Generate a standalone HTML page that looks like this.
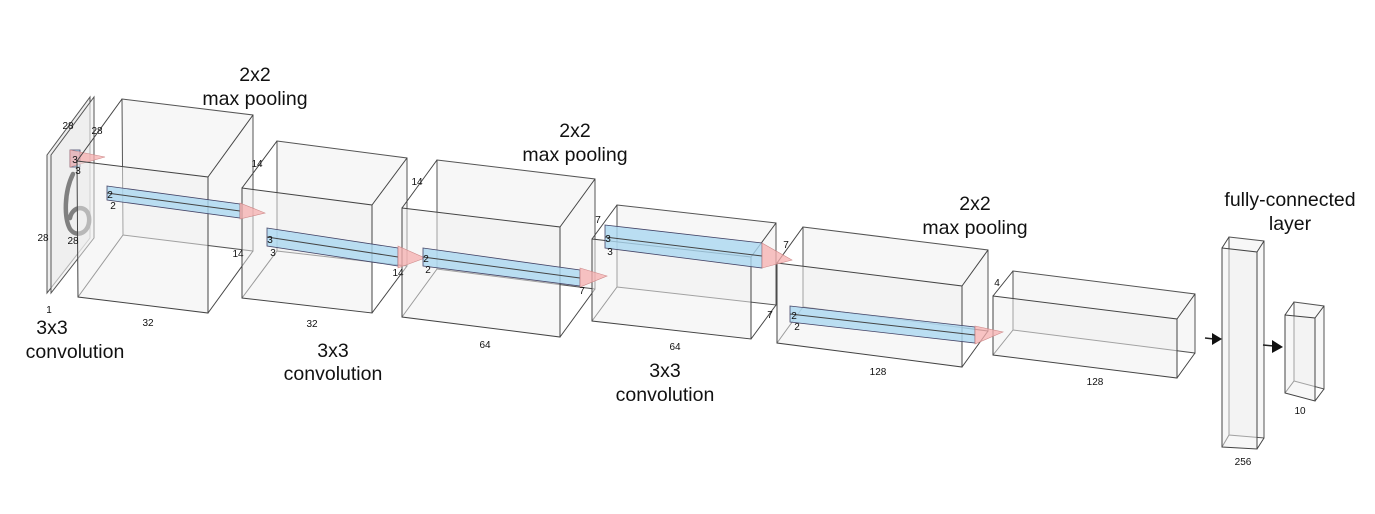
<!DOCTYPE html>
<html><head><meta charset="utf-8"><style>
html,body{margin:0;padding:0;background:#fff}
svg{display:block}
text{font-family:"Liberation Sans",Arial,sans-serif;fill:#111}
.big{font-size:19.5px}
.sm{font-size:10px;fill:#333}
.f{fill:rgba(240,240,240,0.5);stroke:#444;stroke-width:1}
.b{fill:#f7f7f7;stroke:#555;stroke-width:1}
.e{stroke:#444;stroke-width:1;fill:none}
.k{fill:rgba(170,215,240,0.8);stroke:#446;stroke-width:0.8}
.c{fill:rgba(245,175,175,0.75);stroke:#c88;stroke-width:0.6}
</style></head><body>
<svg width="1375" height="514" viewBox="0 0 1375 514" xmlns="http://www.w3.org/2000/svg">
<!-- input plane -->
<polygon points="47,155 90,97 90,238 47,293" fill="#eeeeee" stroke="#555"/>
<polygon points="51,155 94,97 94,238 51,293" fill="rgba(240,240,240,0.6)" stroke="#555"/>
<path d="M73,174 C64,192 64,218 70,229 C77,239 91,232 89,217 C87,204 72,206 70,218" fill="none" stroke="#808080" stroke-width="4.5" stroke-linecap="round"/>
<polygon points="70,150 80,150 80,167 70,167" class="k"/>
<polygon points="70,150 105,157 70,167" class="c"/>

<!-- box1 -->
<polygon class="b" points="122,99 253,115 253,251 123,235"/>
<line class="e" x1="77" y1="161" x2="122" y2="99"/><line class="e" x1="208" y1="177" x2="253" y2="115"/><line class="e" x1="208" y1="313" x2="253" y2="251"/><line class="e" x1="78" y1="297" x2="123" y2="235"/>
<polygon class="f" points="77,161 208,177 208,313 78,297"/>
<!-- box2 -->
<polygon class="b" points="277,141 407,158 407,266 277,251"/>
<line class="e" x1="242" y1="188" x2="277" y2="141"/><line class="e" x1="372" y1="205" x2="407" y2="158"/><line class="e" x1="372" y1="313" x2="407" y2="266"/><line class="e" x1="242" y1="298" x2="277" y2="251"/>
<polygon class="f" points="242,188 372,205 372,313 242,298"/>
<!-- box3 -->
<polygon class="b" points="437,160 595,179 595,289 437,269"/>
<line class="e" x1="402" y1="208" x2="437" y2="160"/><line class="e" x1="560" y1="227" x2="595" y2="179"/><line class="e" x1="560" y1="337" x2="595" y2="289"/><line class="e" x1="402" y1="317" x2="437" y2="269"/>
<polygon class="f" points="402,208 560,227 560,337 402,317"/>
<!-- box4 -->
<polygon class="b" points="617,205 776,223 776,305 617,287"/>
<line class="e" x1="592" y1="239" x2="617" y2="205"/><line class="e" x1="751" y1="257" x2="776" y2="223"/><line class="e" x1="751" y1="339" x2="776" y2="305"/><line class="e" x1="592" y1="321" x2="617" y2="287"/>
<polygon class="f" points="592,239 751,257 751,339 592,321"/>
<!-- box5 -->
<polygon class="b" points="803,227 988,250 988,331 803,307"/>
<line class="e" x1="777" y1="263" x2="803" y2="227"/><line class="e" x1="962" y1="286" x2="988" y2="250"/><line class="e" x1="962" y1="367" x2="988" y2="331"/><line class="e" x1="777" y1="343" x2="803" y2="307"/>
<polygon class="f" points="777,263 962,286 962,367 777,343"/>
<!-- box6 -->
<polygon class="b" points="1013,271 1195,294 1195,353 1013,330"/>
<line class="e" x1="993" y1="296" x2="1013" y2="271"/><line class="e" x1="1177" y1="319" x2="1195" y2="294"/><line class="e" x1="1177" y1="378" x2="1195" y2="353"/><line class="e" x1="993" y1="355" x2="1013" y2="330"/>
<polygon class="f" points="993,296 1177,319 1177,378 993,355"/>
<!-- FC -->
<polygon class="b" points="1229,237 1264,241 1264,438 1229,435"/>
<line class="e" x1="1222" y1="248" x2="1229" y2="237"/><line class="e" x1="1257" y1="252" x2="1264" y2="241"/><line class="e" x1="1257" y1="449" x2="1264" y2="438"/><line class="e" x1="1222" y1="447" x2="1229" y2="435"/>
<polygon class="f" points="1222,248 1257,252 1257,449 1222,447"/>
<!-- output -->
<polygon class="b" points="1294,302 1324,306 1324,389 1294,381"/>
<line class="e" x1="1285" y1="315" x2="1294" y2="302"/><line class="e" x1="1315" y1="318" x2="1324" y2="306"/><line class="e" x1="1315" y1="401" x2="1324" y2="389"/><line class="e" x1="1285" y1="393" x2="1294" y2="381"/>
<polygon class="f" points="1285,315 1315,318 1315,401 1285,393"/>
<!-- arrows -->
<line x1="1205" y1="338" x2="1214" y2="339" stroke="#222" stroke-width="1.5"/>
<polygon points="1212,333 1222,339 1212,345" fill="#111"/>
<line x1="1263" y1="345" x2="1274" y2="346" stroke="#222" stroke-width="1.5"/>
<polygon points="1272,340 1283,347 1272,353" fill="#111"/>

<!-- kernels -->
<polygon class="k" points="107,186 240,204 240,218 107,200"/><line class="e" x1="107" y1="193" x2="240" y2="211"/>
<polygon class="c" points="240,203 265,213 240,219"/>
<polygon class="k" points="267,228 398,248 398,266 267,246"/><line class="e" x1="267" y1="237" x2="398" y2="257"/>
<polygon class="c" points="398,246 425,258 398,268"/>
<polygon class="k" points="423,248 580,270 580,286 423,266"/><line class="e" x1="423" y1="257" x2="580" y2="278"/>
<polygon class="c" points="580,268 607,276 580,287"/>
<polygon class="k" points="605,225 762,243 762,268 605,248"/><line class="e" x1="605" y1="237" x2="762" y2="256"/>
<polygon class="c" points="762,243 792,260 762,268"/>
<polygon class="k" points="790,306 975,327 975,343 790,322"/><line class="e" x1="790" y1="314" x2="975" y2="335"/>
<polygon class="c" points="975,326 1003,332 975,344"/>

<!-- big labels -->
<g class="big" text-anchor="middle">
<text x="255" y="81">2x2</text><text x="255" y="105">max pooling</text>
<text x="575" y="137">2x2</text><text x="575" y="161">max pooling</text>
<text x="975" y="210">2x2</text><text x="975" y="234">max pooling</text>
<text x="52" y="334">3x3</text><text x="75" y="358">convolution</text>
<text x="333" y="357">3x3</text><text x="333" y="380">convolution</text>
<text x="665" y="377">3x3</text><text x="665" y="401">convolution</text>
<text x="1290" y="206">fully-connected</text><text x="1290" y="230">layer</text>
</g>
<!-- small labels -->
<g class="sm" text-anchor="middle">
<text x="68" y="129">28</text><text x="97" y="134">28</text><text x="43" y="241">28</text><text x="73" y="244">28</text>
<text x="75" y="163">3</text><text x="78" y="174">3</text>
<text x="49" y="313">1</text><text x="148" y="326">32</text>
<text x="110" y="198">2</text><text x="113" y="209">2</text>
<text x="257" y="167">14</text><text x="238" y="257">14</text><text x="312" y="327">32</text>
<text x="270" y="243">3</text><text x="273" y="256">3</text>
<text x="417" y="185">14</text><text x="398" y="276">14</text><text x="485" y="348">64</text>
<text x="426" y="262">2</text><text x="428" y="273">2</text>
<text x="598" y="223">7</text><text x="582" y="294">7</text><text x="675" y="350">64</text>
<text x="608" y="242">3</text><text x="610" y="255">3</text>
<text x="770" y="318">7</text><text x="786" y="248">7</text><text x="878" y="375">128</text>
<text x="794" y="319">2</text><text x="797" y="330">2</text>
<text x="997" y="286">4</text><text x="1095" y="385">128</text>
<text x="1243" y="465">256</text><text x="1300" y="414">10</text>
</g>
</svg>
</body></html>
